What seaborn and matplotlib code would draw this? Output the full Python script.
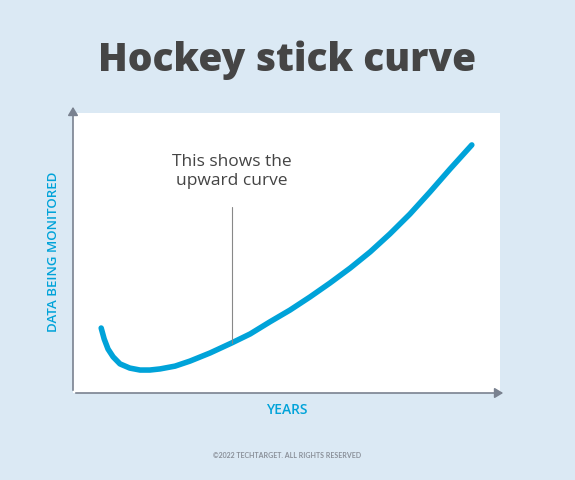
import matplotlib
matplotlib.use("Agg")
import matplotlib.pyplot as plt
import seaborn as sns
import pandas as pd

years = [6.6, 7.3, 8.2, 9.4, 11.0, 13.3, 15.7, 18.0, 20.4, 23.9, 27.4, 32.1, 37.2, 41.5,
         46.1, 50.8, 55.5, 60.2, 64.9, 69.6, 74.2, 78.9, 83.6, 88.3, 93.4]
data_vals = [23.2, 19.3, 15.7, 12.9, 10.4, 8.9, 8.2, 8.2, 8.6, 9.6, 11.4, 14.3, 17.9, 21.1,
             25.4, 29.6, 34.3, 39.3, 44.6, 50.4, 56.8, 63.9, 71.8, 80.0, 88.6]
annot_x = 37.2
annot_y = 17.9

sns.set_style("white")
plt.rcParams['font.family'] = ['Lato', 'DejaVu Sans']
W, H = 575, 480
fig = plt.figure(figsize=(5.75, 4.8), dpi=100)
fig.patch.set_facecolor('#dbe9f4')
ax = fig.add_axes([73/W, 1-393/H, 427/W, 280/H])
ax.set_facecolor('white')
df = pd.DataFrame({'x': years, 'y': data_vals})
sns.lineplot(data=df, x='x', y='y', ax=ax, color='#00a3d9', lw=4, solid_capstyle='round',
             solid_joinstyle='round')
ax.set_xlim(0, 100); ax.set_ylim(0, 100)
ax.set_xticks([]); ax.set_yticks([])
for s in ax.spines.values(): s.set_visible(False)
ax.set_xlabel(''); ax.set_ylabel('')
ax.plot([annot_x, annot_x], [annot_y, 66.4], color='#888888', lw=0.8)
ax.text(annot_x, 73, 'This shows the\nupward curve', ha='center', va='bottom',
        fontsize=12.5, color='#444444', linespacing=1.25, family=['Open Sans', 'DejaVu Sans'])
fig.add_artist(matplotlib.patches.FancyArrowPatch((73/W, 1-393/H), (73/W, 1-104/H), transform=fig.transFigure,
               arrowstyle='-|>,head_length=5,head_width=3', color='#7a8290', lw=1.2))
fig.add_artist(matplotlib.patches.FancyArrowPatch((73/W, 1-393/H), (506/W, 1-393/H), transform=fig.transFigure,
               arrowstyle='-|>,head_length=5,head_width=3', color='#7a8290', lw=1.2))
fig.text(287/W, 1-60/H, 'Hockey stick curve', ha='center', va='center', fontsize=28,
         fontweight='black', color='#454545', family=['Open Sans', 'DejaVu Sans'])
fig.text(287/W, 1-410/H, 'YEARS', ha='center', va='center', fontsize=10, color='#00a3d9',
         fontweight='semibold', family=['Open Sans', 'DejaVu Sans'])
fig.text(54/W, 1-252/H, 'DATA BEING MONITORED', ha='center', va='center', rotation=90,
         fontsize=9.5, color='#00a3d9', fontweight='semibold', family=['Open Sans', 'DejaVu Sans'])
fig.text(287/W, 1-455/H, '©2022 TECHTARGET. ALL RIGHTS RESERVED', ha='center', va='center',
         fontsize=5, color='#8a9099', fontweight='bold')
fig.savefig('out.png', dpi=100, facecolor=fig.get_facecolor())
